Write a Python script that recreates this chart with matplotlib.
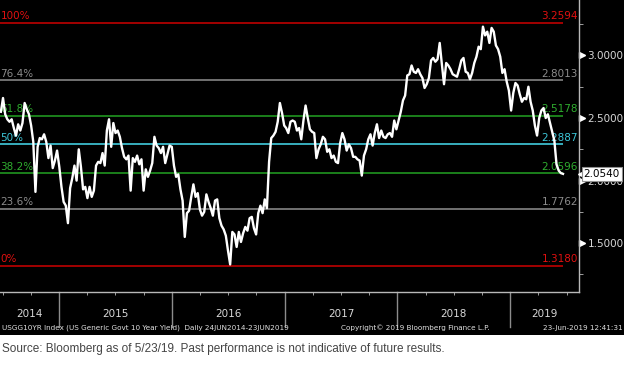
import matplotlib.pyplot as plt
import pandas as pd
from matplotlib.patches import Rectangle

# weekly (Friday) US 10y yield, %
yields_2014 = [2.55, 2.66, 2.53, 2.49, 2.47,
               2.49, 2.42, 2.36, 2.45, 2.40,
               2.46, 2.62, 2.57, 2.53,
               2.44, 2.31, 1.91, 2.27, 2.34,
               2.33, 2.37, 2.31, 2.18,
               2.28, 2.10, 2.16, 2.24]
yields_2015 = [2.11, 1.95, 1.83, 1.80, 1.66,
               1.94, 2.02, 2.12, 2.00,
               2.25, 2.11, 1.93, 1.95,
               1.86, 1.95, 1.87, 1.92,
               2.12, 2.15, 2.14, 2.22, 2.12,
               2.40, 2.49, 2.27, 2.46,
               2.38, 2.40, 2.35, 2.26, 2.19,
               2.17, 2.20, 1.92, 2.18,
               2.15, 2.20, 2.13, 2.17,
               1.92, 2.09, 2.03, 2.08, 2.14,
               2.35, 2.28, 2.26, 2.22,
               2.27, 2.14, 2.21, 2.28]
yields_2016 = [2.27, 2.12, 2.03, 2.05, 1.93,
               1.84, 1.55, 1.74, 1.76,
               1.87, 1.97, 1.87, 1.90,
               1.77, 1.72, 1.75, 1.89, 1.83,
               1.78, 1.72, 1.84, 1.85,
               1.70, 1.64, 1.61, 1.56,
               1.44, 1.33, 1.59, 1.57, 1.47,
               1.59, 1.51, 1.58, 1.63,
               1.60, 1.70, 1.71, 1.62, 1.57,
               1.74, 1.80, 1.74, 1.85,
               1.78, 2.15, 2.34, 2.36,
               2.39, 2.47, 2.62, 2.54, 2.44]
yields_2017 = [2.42, 2.38, 2.47, 2.48,
               2.47, 2.40, 2.42, 2.33,
               2.48, 2.60, 2.50, 2.41, 2.39,
               2.38, 2.18, 2.25, 2.29,
               2.35, 2.33, 2.23, 2.25,
               2.18, 2.20, 2.15, 2.14, 2.30,
               2.38, 2.33, 2.24, 2.29,
               2.26, 2.19, 2.19, 2.17,
               2.16, 2.04, 2.20, 2.25, 2.33,
               2.37, 2.28, 2.38, 2.45,
               2.34, 2.40, 2.35, 2.34,
               2.37, 2.38, 2.35, 2.48, 2.41]
yields_2018 = [2.48, 2.55, 2.64, 2.68,
               2.84, 2.85, 2.92, 2.87,
               2.86, 2.89, 2.85, 2.82, 2.74,
               2.77, 2.82, 2.96, 2.98,
               2.95, 2.97, 3.10, 2.93,
               2.77, 2.94, 2.92, 2.89, 2.85,
               2.84, 2.83, 2.89, 2.96,
               2.98, 2.87, 2.86, 2.81, 2.86,
               2.94, 2.99, 3.07, 3.05,
               3.23, 3.16, 3.19, 3.10,
               3.22, 3.19, 3.08, 3.05, 2.99,
               2.86, 2.89, 2.79, 2.72]
yields_2019 = [2.56, 2.70, 2.78, 2.76,
               2.69, 2.63, 2.66, 2.65,
               2.75, 2.63, 2.56, 2.44, 2.36,
               2.50, 2.56, 2.58, 2.50,
               2.53, 2.46, 2.39, 2.32, 2.13,
               2.08, 2.06, 2.054]

fib_pct = ["100%", "76.4%", "61.8%", "50%", "38.2%", "23.6%", "0%"]
fib_levels = [3.2594, 2.8013, 2.5178, 2.2887, 2.0596, 1.7762, 1.3180]
years = [2014, 2015, 2016, 2017, 2018, 2019]
last_value = 2.0540

yields = yields_2014 + yields_2015 + yields_2016 + yields_2017 + yields_2018 + yields_2019
dates = pd.date_range("2014-06-27", periods=len(yields), freq="W-FRI")
t = dates.year + (dates.dayofyear - 1) / 365.25

x0, x1 = 2014.477, 2019.610
line_end = 2019.468

fig = plt.figure(figsize=(6.24, 3.68), dpi=100, facecolor="black")
ax = fig.add_axes([0, 76 / 368, 579 / 624, 292 / 368])
ax.set_facecolor("black")
ax.set_xlim(x0, x1)
ax.set_ylim(1.110, 3.443)

for s in ["top", "left"]:
    ax.spines[s].set_visible(False)
for s in ["bottom", "right"]:
    ax.spines[s].set_color("#b8b8b8")
    ax.spines[s].set_linewidth(1)

line_cols = ["#b00000", "#7a7a7a", "#1d8a1d", "#3cbccc", "#1d8a1d", "#7a7a7a", "#b00000"]
text_cols = ["#e01010", "#8c8c8c", "#2fae2f", "#3cc6d8", "#2fae2f", "#8c8c8c", "#e01010"]
for pct, lev, lc, tc in zip(fib_pct, fib_levels, line_cols, text_cols):
    ax.hlines(lev, x0, line_end, color=lc, lw=1.3, zorder=2)
    ax.text(x0 + 0.003, lev + 0.012, pct, color=tc, fontsize=7.5, va="bottom", ha="left", zorder=2)
    ax.text(0.998, lev + 0.012, f"{lev:.4f}", color=tc, fontsize=7.5, va="bottom", ha="right",
            transform=ax.get_yaxis_transform(), zorder=2)

ax.plot(t, yields, color="white", lw=1.7, zorder=3)

# right axis
ax.yaxis.tick_right()
ax.set_yticks([1.5, 2.0, 2.5, 3.0])
ax.set_yticklabels([f"{v:.4f}" for v in [1.5, 2.0, 2.5, 3.0]])
ax.set_yticks([1.25, 1.75, 2.25, 2.75, 3.25], minor=True)
ax.tick_params(axis="y", which="major", length=4, color="#d0d0d0", labelcolor="#d8d8d8",
               labelsize=7.5, pad=2)
ax.tick_params(axis="y", which="minor", length=3, color="#b8b8b8")
for v in [1.5, 2.0, 2.5, 3.0]:
    ax.plot(1.006, v, marker=">", ms=4, color="white", transform=ax.get_yaxis_transform(),
            clip_on=False)

# bottom axis
ax.set_xticks([])
qt = [y + q for y in years for q in [0, 0.25, 0.5, 0.75] if x0 < y + q < x1]
ax.set_xticks(qt, minor=True)
ax.tick_params(axis="x", which="minor", length=2.5, color="#b8b8b8")
for yr in years[1:]:
    ax.plot([yr, yr], [0, -0.12], transform=ax.get_xaxis_transform(), color="#8c8c8c",
            lw=1, clip_on=False)
for yr in years:
    c = (max(yr, x0) + min(yr + 1, x1)) / 2
    ax.text(c, -0.074, str(yr), transform=ax.get_xaxis_transform(), ha="center", va="center",
            color="#d8d8d8", fontsize=7.5)

# last value tag (covers the 2.0000 label, as in the original)
ax.plot(1.004, last_value, marker="<", ms=4, color="white", transform=ax.get_yaxis_transform(),
        clip_on=False, zorder=5)
ax.text(1.008, last_value, f"{last_value:.4f}", transform=ax.get_yaxis_transform(),
        ha="left", va="center", color="black", fontsize=7.5, zorder=5, clip_on=False,
        bbox=dict(boxstyle="square,pad=0.2", fc="white", ec="#909090", lw=0.8))

# footer
fig.text(0.003, 0.109, "USGG10YR Index (US Generic Govt 10 Year Yield)  Daily 24JUN2014-23JUN2019",
         color="#e0e0e0", fontsize=5.2, va="center", ha="left")
fig.text(0.665, 0.109, "Copyright\u00a9 2019 Bloomberg Finance L.P.", color="#e0e0e0",
         fontsize=5.2, va="center", ha="center")
fig.text(0.997, 0.109, "23-Jun-2019 12:41:31", color="#e0e0e0", fontsize=5.2,
         va="center", ha="right")

fig.patches.append(Rectangle((0, 0), 1, 33 / 368, transform=fig.transFigure,
                             fc="white", ec="none", zorder=0))
fig.text(0.003, 0.052, "Source: Bloomberg as of 5/23/19. Past performance is not indicative of future results.",
         color="#444444", fontsize=8.5, family="Liberation Sans", va="center", ha="left")

fig.savefig("out.png", dpi=100, facecolor="black")
